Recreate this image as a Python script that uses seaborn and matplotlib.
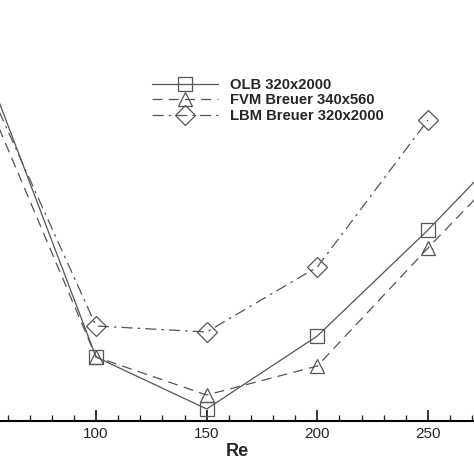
import matplotlib
matplotlib.use("Agg")
import matplotlib.pyplot as plt
import seaborn as sns

sns.set_style("white")
plt.rcParams['font.family'] = ['Liberation Sans', 'DejaVu Sans']

re_olb = [50, 100, 150, 200, 250, 300]
olb = [355, 64, 12, 85, 191, 306]
re_fvm = [50, 100, 150, 200, 250, 300]
fvm = [325, 64, 26, 55, 173, 288]
re_lbm = [50, 100, 150, 200, 250]
lbm = [340, 95, 89, 154, 301]

fig = plt.figure(figsize=(4.74, 4.74), dpi=100)
ax = fig.add_axes([0, 53/474, 1, 421/474])
c = '#555555'
kw = dict(color=c, linewidth=0.9, markersize=10, markerfacecolor='none',
          markeredgecolor=c, markeredgewidth=0.9, ax=ax)
sns.lineplot(x=re_olb, y=olb, marker='s', linestyle='-', label='OLB 320x2000', **kw)
sns.lineplot(x=re_fvm, y=fvm, marker='^', linestyle=(0, (8, 5)), label='FVM Breuer 340x560', **kw)
sns.lineplot(x=re_lbm, y=lbm, marker='D', linestyle=(0, (9, 4, 2, 4)), label='LBM Breuer 320x2000', **kw)

ax.set_xlim(56.6, 270.8)
ax.set_ylim(0, 421)
for s in ['left', 'right', 'top']:
    ax.spines[s].set_visible(False)
ax.spines['bottom'].set_linewidth(1.5)
ax.spines['bottom'].set_color('black')
ax.set_yticks([])
ax.set_xticks([100, 150, 200, 250])
ax.set_xticks(range(60, 271, 10), minor=True)
ax.tick_params(axis='x', which='major', direction='in', length=8, width=1.3, labelsize=11, pad=4, bottom=True)
ax.tick_params(axis='x', which='minor', direction='in', length=4, width=1, bottom=True)
ax.set_xlabel('Re', fontsize=13, fontweight='bold', labelpad=2)
leg = ax.legend(loc='upper left', bbox_to_anchor=(146/474, 1 - 72/421), frameon=False,
                prop={'weight': 'bold', 'size': 10.6}, handlelength=4.5, labelspacing=0.1,
                borderaxespad=0)
fig.savefig('out.png', dpi=100)
